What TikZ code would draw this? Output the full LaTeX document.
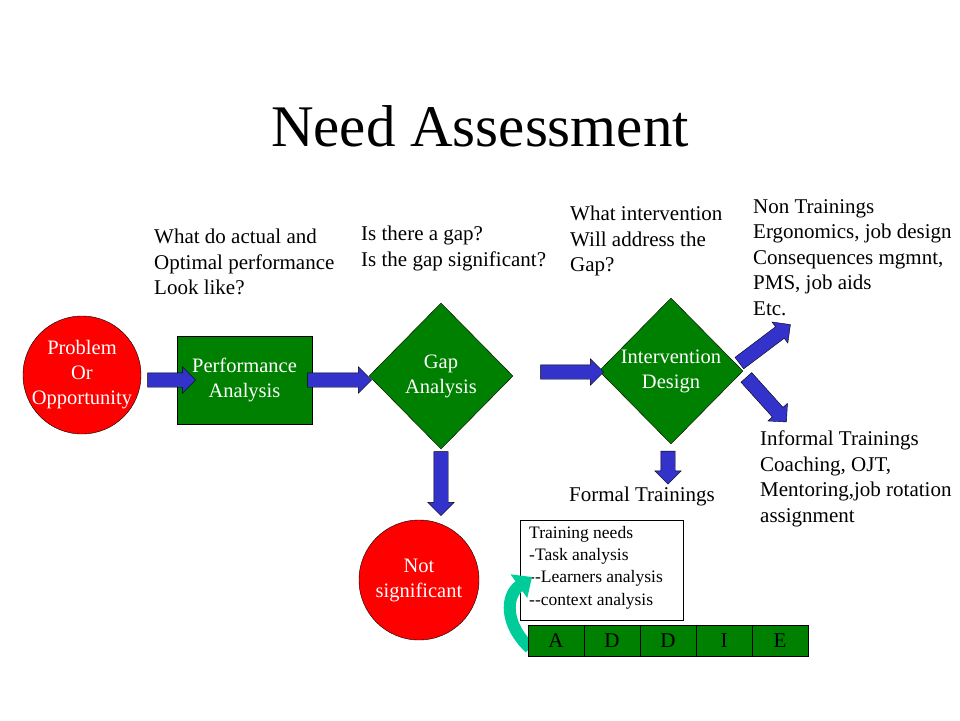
\documentclass[tikz,border=0pt]{standalone}
\usepackage{fontspec}
\setmainfont{Liberation Serif}
\usetikzlibrary{shapes.geometric,shapes.arrows,arrows.meta}
\definecolor{gr}{RGB}{0,128,0}
\definecolor{bl}{RGB}{51,51,204}
\definecolor{tl}{RGB}{0,204,153}
\begin{document}
\begin{tikzpicture}[x=1pt,y=-1pt,
  txt/.style={align=left,anchor=north west,inner sep=0,font=\fontsize{21}{25.5}\selectfont},
  wtxt/.style={text=white,align=center,font=\fontsize{20.5}{25}\selectfont},
  fat/.style={single arrow,draw=black,line width=0.4pt,fill=bl,inner xsep=0,inner ysep=7pt,minimum width=26,single arrow head extend=6,single arrow tip angle=90},
  circ/.style={circle,draw=black,fill=red,minimum size=#1},
  dia/.style={diamond,draw=black,fill=gr,minimum width=144,minimum height=146,aspect=1,inner sep=0},
  cell/.style={draw=black,fill=gr,minimum width=56,minimum height=31,inner sep=0,font=\fontsize{21}{22}\selectfont}]
\useasboundingbox[fill=white] (0,0) rectangle (960,720);
\node (title) at (480,126) {\fontsize{59}{64}\selectfont Need Assessment};
\node[circ=118] (prob) at (82,375) {};
\node[wtxt] at (prob) {Problem\\Or\\Opportunity};
\node[draw=black,fill=gr,minimum width=135,minimum height=88,inner sep=0,wtxt] (perf) at (244.5,380) {Performance\\Analysis};
\node[dia] (gap) at (441,376) {};
\node[wtxt] at (gap) {Gap\\Analysis};
\node[circ=120] (ns) at (419,580) {};
\node[wtxt] at (ns) {Not\\significant};
\node[dia] (int) at (671,371) {};
\node[wtxt] at (int) {Intervention\\Design};
% fat arrows
\node[fat,minimum height=48] (a1) at (168,380) {};
\node[fat,minimum height=64] (a2) at (336,380) {};
\node[fat,minimum height=64,rotate=-90] (a3) at (441,480) {};
\node[fat,minimum height=63] (a4) at (568.5,372) {};
\node[fat,minimum height=33,rotate=-90] (a5) at (668,464) {};
\node[fat,minimum height=64,rotate=37] (a6) at (762,346) {};
\node[fat,minimum height=60,rotate=-48] (a7) at (764,397) {};
% texts
\node[txt] (t1) at (154,229) {What do actual and\\Optimal performance\\Look like?};
\node[txt] (t2) at (361,226) {Is there a gap?\\Is the gap significant?};
\node[txt] (t3) at (570,206) {What intervention\\Will address the\\Gap?};
\node[txt] (t4) at (753,199) {Non Trainings\\Ergonomics, job design\\Consequences mgmnt,\\PMS, job aids\\Etc.};
\node[txt] (t5) at (760,431) {Informal Trainings\\Coaching, OJT,\\Mentoring,job rotation\\assignment};
\node[txt] (t6) at (569,487) {Formal Trainings};
\node[draw=black,fill=white,minimum width=163,minimum height=100,inner sep=0] (tn) at (601.5,570) {};
\node[txt,font=\fontsize{17.5}{22.3}\selectfont] at (529,526) {Training needs\\-Task analysis\\-{}-Learners analysis\\ -{}-context analysis};
\draw[tl,line width=12pt,line cap=butt,-{Triangle[length=16pt,width=28pt]}] (530,648) .. controls (505,625) and (505,596) .. (532,577);
\foreach \l [count=\i] in {A,D,D,I,E}
  \node[cell] (c\i) at (528+56*\i-28,640.5) {\l};
\end{tikzpicture}
\end{document}
